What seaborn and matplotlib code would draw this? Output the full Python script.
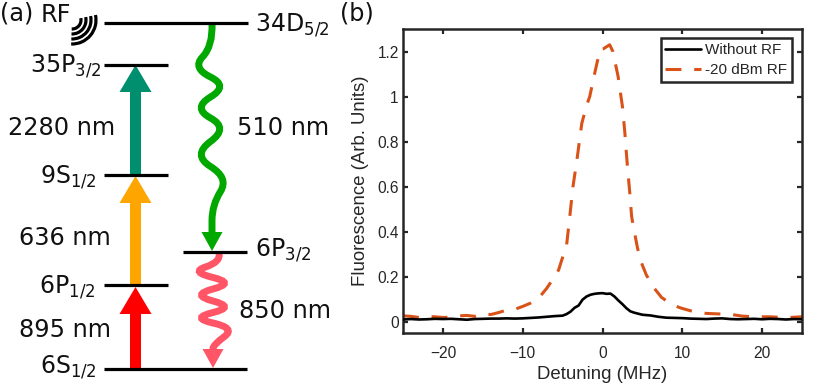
import numpy as np
import pandas as pd
import seaborn as sns
import matplotlib
matplotlib.use('Agg')
import matplotlib.pyplot as plt
from matplotlib.patches import Arc, FancyArrow, PathPatch
from matplotlib.path import Path

# spectra
detuning_off = [-25, -24, -23, -22, -21, -20, -19, -18, -17, -16, -15, -14, -13, -12, -11, -10, -9, -8, -7, -6, -5,
                -4.5, -4, -3.5, -3, -2.5, -2, -1.5, -1, -0.5, 0, 0.5, 1, 1.5, 2, 2.5, 3, 3.5, 4, 5, 6, 7, 8, 9, 10,
                11, 12, 13, 14, 15, 16, 17, 18, 19, 20, 21, 22, 23, 24, 25]
without_rf = [0.010, 0.012, 0.010, 0.011, 0.013, 0.012, 0.013, 0.011, 0.009, 0.012, 0.013, 0.014, 0.014, 0.015, 0.014,
              0.015, 0.017, 0.019, 0.022, 0.025, 0.027, 0.034, 0.045, 0.062, 0.072, 0.098, 0.112, 0.120, 0.124, 0.126,
              0.127, 0.124, 0.125, 0.112, 0.094, 0.078, 0.060, 0.046, 0.040, 0.031, 0.028, 0.022, 0.018, 0.017, 0.016,
              0.014, 0.013, 0.012, 0.014, 0.015, 0.012, 0.011, 0.012, 0.013, 0.011, 0.013, 0.012, 0.010, 0.012, 0.011]
detuning_on = [-25, -24, -23, -22, -21, -20, -19, -18, -17, -16, -15, -14, -13, -12, -11, -10, -9, -8, -7.0, -6.2,
               -5.5, -5.1, -4.5, -4.1, -3.7, -3.2, -2.6, -2.0, -1.6, -1.0, -0.3, 0.1, 0.9, 1.3, 1.95, 2.5, 2.8, 3.1,
               3.4, 3.65, 4.1, 4.4, 4.9, 5.5, 6.5, 7.4, 8.8, 9.9, 11.5, 13, 15, 16, 17.5, 19, 21, 22, 23, 24, 25]
minus20_rf = [0.026, 0.024, 0.019, 0.023, 0.022, 0.019, 0.020, 0.026, 0.028, 0.024, 0.035, 0.032, 0.041, 0.052, 0.055,
              0.068, 0.083, 0.105, 0.148, 0.190, 0.230, 0.275, 0.340, 0.467, 0.600, 0.720, 0.880, 0.960, 1.000, 1.100,
              1.210, 1.212, 1.230, 1.200, 1.090, 0.955, 0.840, 0.700, 0.580, 0.467, 0.380, 0.325, 0.260, 0.207, 0.148,
              0.108, 0.074, 0.060, 0.044, 0.037, 0.034, 0.033, 0.025, 0.022, 0.022, 0.020, 0.018, 0.020, 0.022]
x_ticks = [-20, -10, 0, 10, 20]
y_ticks = [0, 0.2, 0.4, 0.6, 0.8, 1, 1.2]
y_tick_labels = ['0', '0.2', '0.4', '0.6', '0.8', '1', '1.2']

# level scheme of panel (a), in picture pixels
level_x0 = [104, 104, 104, 104, 104, 183]
level_x1 = [248, 168, 168, 168, 247, 247]
level_y = [23, 64.5, 175, 285, 369, 252]
level_names = ['34D$_{5/2}$', '35P$_{3/2}$', '9S$_{1/2}$', '6P$_{1/2}$', '6S$_{1/2}$', '6P$_{3/2}$']
name_x = [255, 101, 97, 95, 97, 255]
name_y = [31, 72, 183, 293, 373, 256]
name_ha = ['left', 'right', 'right', 'right', 'right', 'left']
wave_names = ['2280 nm', '636 nm', '895 nm', '510 nm', '850 nm']
wave_x = [8, 19, 19, 237, 239]
wave_y = [135, 245, 337, 135, 318]
arrow_bottom = [175, 285, 369]
arrow_tip = [65, 176, 287]
arrow_colors = ['#008F6E', '#FFA500', '#FF0000']
green_wave = [(212, 23), (213, 46), (192, 68), (229, 86), (192, 108), (229, 128), (192, 155), (229, 178),
              (212, 205), (212, 236)]
red_wave = [(219, 253), (221, 262), (190, 272), (236, 283), (190, 295), (236, 307), (190, 318), (236, 328),
            (213, 345), (213, 352)]

sns.set_theme(style='white')
plt.rcParams['font.family'] = ['DejaVu Sans']
plt.rcParams['mathtext.fontset'] = 'dejavusans'

fig = plt.figure(figsize=(8.3, 3.86), dpi=100)

# panel (b)
ax = fig.add_axes([403 / 830, 1 - 333 / 386, (802 - 403) / 830, (333 - 29) / 386])
off = pd.DataFrame({'x': detuning_off, 'y': without_rf})
on = pd.DataFrame({'x': detuning_on, 'y': minus20_rf})
sns.lineplot(data=off, x='x', y='y', color='black', lw=1.9, ax=ax, label='Without RF', zorder=3)
sns.lineplot(data=on, x='x', y='y', color='#D95319', lw=2.2, ax=ax, label='-20 dBm RF', zorder=2,
             linestyle=(0, (5.2, 4.2)))
ax.set_xlim(-25, 25)
ax.set_ylim(-0.05, 1.3)
ax.set_xticks(x_ticks)
ax.set_yticks(y_ticks)
ax.set_yticklabels(y_tick_labels)
ax.tick_params(direction='in', length=3.5, width=1.6, top=True, right=True, bottom=True, left=True,
               color='#262626', labelcolor='#262626', labelsize=11.2)
ax.tick_params(axis='x', pad=9)
ax.tick_params(axis='y', pad=3)
for label in ax.get_xticklabels() + ax.get_yticklabels():
    label.set_family('Liberation Sans')
ax.set_xlabel('Detuning (MHz)', family='Liberation Sans', fontsize=13.4, color='#262626', labelpad=4)
ax.set_ylabel('Fluorescence (Arb. Units)', family='Liberation Sans', fontsize=13.4, color='#262626', labelpad=6)
for s in ax.spines.values():
    s.set_linewidth(1.8)
    s.set_color('#262626')
    s.set_visible(True)
leg = ax.legend(loc='upper right', bbox_to_anchor=(1 - 10 / 399, 1 - 9 / 304), borderaxespad=0,
                prop={'family': 'Liberation Sans', 'size': 11}, fancybox=False, framealpha=1, handlelength=2.35,
                handletextpad=0.25, borderpad=0.32, labelspacing=0.42, edgecolor='#262626')
leg.get_frame().set_linewidth(1.8)
for t in leg.get_texts():
    t.set_color('#262626')

# panel (a) and the letters, on a full figure overlay in pixels
ov = fig.add_axes([0, 0, 1, 1])
ov.set_xlim(0, 830)
ov.set_ylim(386, 0)
ov.axis('off')
ov.patch.set_alpha(0)

ov.hlines(level_y, level_x0, level_x1, color='black', lw=2.3, zorder=3)
for name, x, y, ha in zip(level_names, name_x, name_y, name_ha):
    ov.text(x, y, name, fontsize=17, ha=ha, va='baseline', color='#111111')
for name, x, y in zip(wave_names, wave_x, wave_y):
    ov.text(x, y, name, fontsize=17.3, ha='left', va='baseline', color='#111111')
ov.text(0, 20, '(a)', fontsize=17.3, va='baseline', color='#111111')
ov.text(41, 22, 'RF', fontsize=17.3, va='baseline', color='#111111')
ov.text(340, 20, '(b)', fontsize=17.3, va='baseline', color='#111111')

# straight pump arrows
for y0, y1, c in zip(arrow_bottom, arrow_tip, arrow_colors):
    ov.add_patch(FancyArrow(135.5, y0, 0, y1 - y0, width=11, head_width=32, head_length=27,
                            length_includes_head=True, color=c, lw=0, zorder=2))


# wavy decay arrows, the points work as quadratic control points
def wavy(points, color, head_base, tip, head_w):
    pts = np.array(points, dtype=float)
    verts = [pts[0]]
    codes = [Path.MOVETO]
    for i in range(1, len(pts) - 1):
        verts += [pts[i], (pts[i] + pts[i + 1]) / 2]
        codes += [Path.CURVE3, Path.CURVE3]
    verts.append(pts[-1])
    codes.append(Path.LINETO)
    ov.add_patch(PathPatch(Path(verts, codes), fc='none', ec=color, lw=5.0, capstyle='butt', zorder=2))
    xm = pts[-1][0]
    ov.add_patch(plt.Polygon([(xm - head_w, head_base), (xm + head_w, head_base), (xm, tip)], color=color, lw=0, zorder=2))


wavy(green_wave, '#00A800', 232, 251, 10.5)
wavy(red_wave, '#FF5566', 349, 368, 10.5)

# RF symbol
for r in [24, 19, 14, 9]:
    ov.add_patch(Arc((72, 20), 2 * r, 2 * r, theta1=-12, theta2=92, color='black', lw=2.3))

fig.savefig('out.png', dpi=100)
